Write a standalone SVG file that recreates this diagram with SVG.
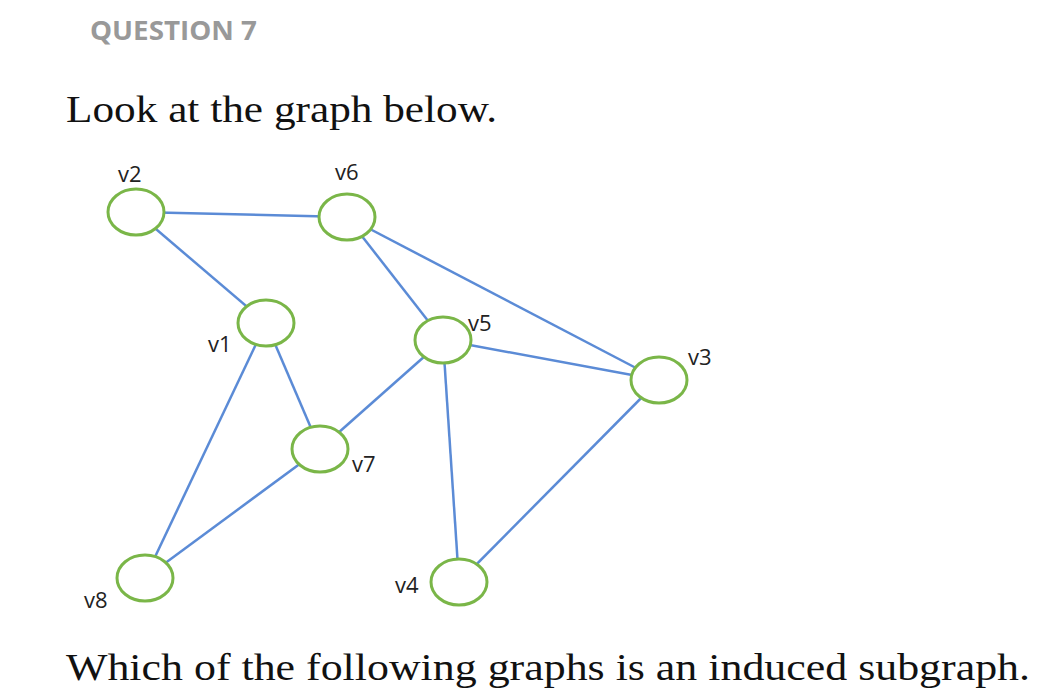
<svg xmlns="http://www.w3.org/2000/svg" width="1038" height="696" viewBox="0 0 1038 696">
<style>
.n{fill:#fff;stroke:#7ab648;stroke-width:3}
.e{stroke:#5b8bd6;stroke-width:2.5}
.l{font-family:"Open Sans","Liberation Sans",sans-serif;font-size:22px;fill:#222}
.s{font-family:"Liberation Serif",serif;font-size:38px;fill:#111}
</style>
<rect width="1038" height="696" fill="#fff"/>
<text x="90" y="40" font-family="Open Sans,Liberation Sans,sans-serif" font-weight="bold" font-size="27" fill="#999" textLength="167" lengthAdjust="spacingAndGlyphs">QUESTION 7</text>
<text class="s" x="66" y="122" textLength="431" lengthAdjust="spacingAndGlyphs">Look at the graph below.</text>
<text class="s" x="66" y="680" textLength="964" lengthAdjust="spacingAndGlyphs">Which of the following graphs is an induced subgraph.</text>
<g id="edges">
<line class="e" x1="136" y1="212" x2="347" y2="217"/>
<line class="e" x1="136" y1="212" x2="266" y2="323"/>
<line class="e" x1="347" y1="217" x2="443" y2="340"/>
<line class="e" x1="347" y1="217" x2="659" y2="380"/>
<line class="e" x1="266" y1="323" x2="320" y2="449"/>
<line class="e" x1="266" y1="323" x2="145" y2="578"/>
<line class="e" x1="320" y1="449" x2="145" y2="578"/>
<line class="e" x1="320" y1="449" x2="443" y2="340"/>
<line class="e" x1="443" y1="340" x2="659" y2="380"/>
<line class="e" x1="443" y1="340" x2="459" y2="582"/>
<line class="e" x1="659" y1="380" x2="459" y2="582"/>
</g>
<g id="v2"><ellipse class="n" cx="136" cy="212" rx="28" ry="23"/><text class="l" x="118" y="182">v2</text></g>
<g id="v6"><ellipse class="n" cx="347" cy="217" rx="28" ry="23"/><text class="l" x="335" y="180">v6</text></g>
<g id="v1"><ellipse class="n" cx="266" cy="323" rx="28" ry="23"/><text class="l" x="208" y="352">v1</text></g>
<g id="v5"><ellipse class="n" cx="443" cy="340" rx="28" ry="23"/><text class="l" x="468" y="331">v5</text></g>
<g id="v3"><ellipse class="n" cx="659" cy="380" rx="28" ry="23"/><text class="l" x="688" y="365">v3</text></g>
<g id="v7"><ellipse class="n" cx="320" cy="449" rx="28" ry="23"/><text class="l" x="352" y="472">v7</text></g>
<g id="v8"><ellipse class="n" cx="145" cy="578" rx="28" ry="23"/><text class="l" x="84" y="608">v8</text></g>
<g id="v4"><ellipse class="n" cx="459" cy="582" rx="28" ry="23"/><text class="l" x="395" y="593">v4</text></g>
</svg>
